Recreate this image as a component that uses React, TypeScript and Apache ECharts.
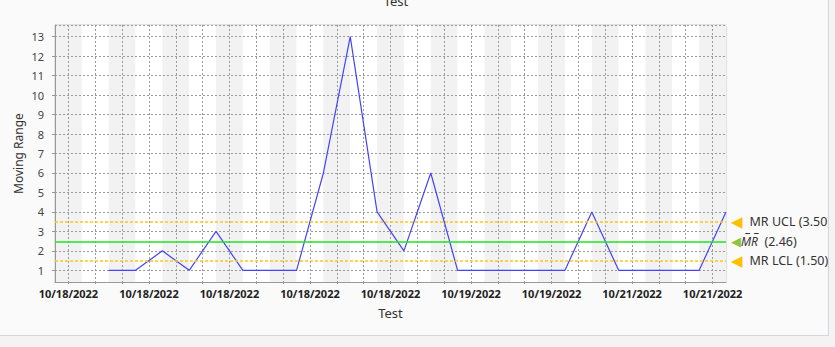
import React, { useEffect, useRef } from "react";
import * as echarts from "echarts";

// Moving range values, one per observation (first observation has no range)
const movingRanges = [1, 1, 2, 1, 3, 1, 1, 1, 6, 13, 4, 2, 6, 1, 1, 1, 1, 1, 4, 1, 1, 1, 1, 4];
// Date tick labels shown under every third grid line
const tickLabels = [
  "10/18/2022", "10/18/2022", "10/18/2022", "10/18/2022", "10/18/2022",
  "10/19/2022", "10/19/2022", "10/21/2022", "10/21/2022",
];
const mrUCL = 3.5;
const mrMean = 2.46;
const mrLCL = 1.5;
const yMin = 0.4;
const yMax = 13.6;

// half-step slots along the time axis: slot k <-> observation index k/2 - 2
const slotCount = movingRanges.length * 2 + 3; // 51
const slots = Array.from({ length: slotCount }, (_, k) => String(k));
const slotLabel = (k: number) => ((k - 1) % 6 === 0 ? tickLabels[(k - 1) / 6] ?? "" : "");
const seriesData = movingRanges.map((v, i) => [2 * i + 4, v]);

const FONT = "'Noto Sans', 'DejaVu Sans', sans-serif";

export default function App() {
  const ref = useRef<HTMLDivElement>(null);
  useEffect(() => {
    if (!ref.current) return;
    const chart = echarts.init(ref.current, undefined, { renderer: "svg" });
    const gridLineStyle = { color: "#9a9a9a", type: [2, 2], width: 1 };
    chart.setOption({
      animation: false,
      backgroundColor: "transparent",
      textStyle: { fontFamily: FONT },
      title: {
        text: "Test",
        left: 391,
        textAlign: "center",
        top: -11,
        textStyle: { fontFamily: FONT, fontSize: 13, fontWeight: "normal", color: "#333" },
      },
      grid: {
        left: 55,
        top: 25,
        width: 671,
        height: 257,
        show: true,
        backgroundColor: "#ffffff",
        borderColor: "#c8c8c8",
        borderWidth: 1,
        containLabel: false,
      },
      xAxis: {
        type: "category",
        z: 0,
        data: slots,
        boundaryGap: false,
        name: "Test",
        nameLocation: "middle",
        nameGap: 24,
        nameMoveOverlap: false,
        nameTextStyle: { fontFamily: FONT, fontSize: 13, color: "#333" },
        axisLine: { show: true, lineStyle: { color: "#999", width: 1 } },
        axisTick: { show: true, length: 2, interval: (i: number) => i % 2 === 1, lineStyle: { color: "#999" } },
        axisLabel: {
          interval: (i: number) => i % 6 === 1,
          formatter: (_v: string, i: number) => slotLabel(i),
          fontFamily: FONT,
          fontSize: 11,
          fontWeight: "bold",
          color: "#222",
          margin: 6,
        },
        splitLine: { show: true, interval: (i: number) => i % 2 === 1, lineStyle: { ...gridLineStyle } },
        splitArea: {
          show: true,
          interval: (i: number) => i % 2 === 0,
          areaStyle: { color: ["#f2f2f2", "#ffffff"] },
        },
      },
      yAxis: {
        type: "value",
        z: 1,
        min: yMin,
        max: yMax,
        minInterval: 1,
        maxInterval: 1,
        name: "Moving Range",
        nameLocation: "middle",
        nameGap: 31,
        nameMoveOverlap: false,
        nameTextStyle: { fontFamily: FONT, fontSize: 12, color: "#333" },
        axisLine: { show: true, lineStyle: { color: "#999", width: 1 } },
        axisTick: { show: true, length: 3, lineStyle: { color: "#999" } },
        axisLabel: {
          showMinLabel: false,
          showMaxLabel: false,
          formatter: (v: number) => (Number.isInteger(v) ? String(v) : ""),
          fontFamily: FONT,
          fontSize: 11,
          color: "#444",
          margin: 11,
        },
        splitLine: { show: true, lineStyle: { ...gridLineStyle } },
      },
      series: [
        {
          type: "line",
          data: [],
          z: 2,
          silent: true,
          markLine: {
            silent: true,
            symbol: ["none", "none"],
            label: {
              show: true,
              position: "end",
              distance: 5,
              fontFamily: FONT,
              fontSize: 12.5,
              color: "#333",
              rich: {
                tri: { fontFamily: "'DejaVu Sans'", fontSize: 15, color: "#ffbf00", padding: [0, 7, 0, 0] },
                gtri: { fontFamily: "'DejaVu Sans'", fontSize: 13, color: "#8cc63f" },
                mr: { fontFamily: FONT, fontSize: 12, fontStyle: "italic", color: "#333" },
                txt: { fontFamily: FONT, fontSize: 12.5, color: "#333" },
              },
            },
            data: [
              {
                yAxis: mrUCL,
                lineStyle: { color: "#ffc61a", type: [3, 2], width: 1.5 },
                label: { formatter: `{tri|◀}{txt|MR UCL (${mrUCL.toFixed(2)})}` },
              },
              {
                yAxis: mrMean,
                lineStyle: { color: "#1ee61e", type: "solid", width: 1.5 },
                label: { formatter: `{gtri|◀}{mr|M\u0305R\u0305}{txt|  (${mrMean.toFixed(2)})}` },
              },
              {
                yAxis: mrLCL,
                lineStyle: { color: "#ffc61a", type: [3, 2], width: 1.5 },
                label: { formatter: `{tri|◀}{txt|MR LCL (${mrLCL.toFixed(2)})}` },
              },
            ],
          },
        },
        {
          type: "line",
          data: seriesData,
          z: 3,
          symbol: "none",
          lineStyle: { color: "#4343ff", width: 1.2 },
        },
      ],
    });
    return () => chart.dispose();
  }, []);
  return (
    <div style={{ position: "fixed", left: 0, top: 0, width: 835, height: 347, background: "#f3f3f4" }}>
      <div
        style={{
          position: "absolute",
          left: 0,
          top: 0,
          width: 828,
          height: 335,
          background: "#fafafa",
          borderRight: "1px solid #d6d6da",
          borderBottom: "1px solid #d6d6da",
          overflow: "hidden",
        }}
      >
        <div ref={ref} style={{ width: 828, height: 335 }} />
      </div>
    </div>
  );
}
